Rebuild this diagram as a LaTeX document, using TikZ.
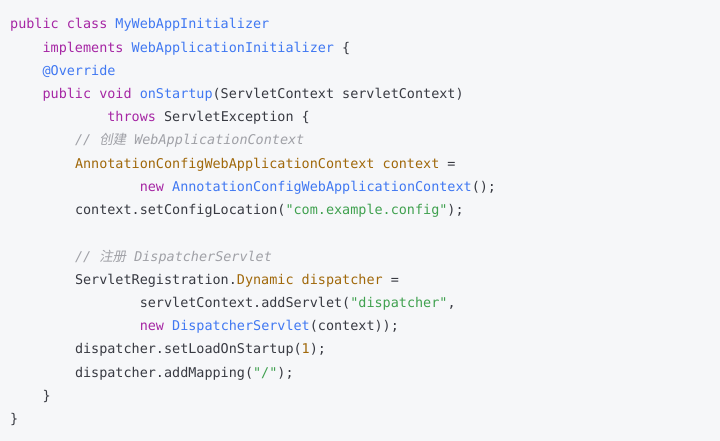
\documentclass[tikz,border=0pt]{standalone}
\usepackage{fontspec}
\setmonofont{DejaVu Sans Mono}
\newfontfamily\cjk{Noto Sans CJK SC}
\definecolor{bgc}{HTML}{F6F7F9}
\definecolor{kw}{HTML}{A626A4}
\definecolor{fn}{HTML}{4078F2}
\definecolor{ty}{HTML}{A0680A}
\definecolor{st}{HTML}{40A14F}
\definecolor{cm}{HTML}{A0A1A7}
\definecolor{tx}{HTML}{383A42}
\newcommand{\K}[1]{\textcolor{kw}{#1}}
\newcommand{\F}[1]{\textcolor{fn}{#1}}
\newcommand{\T}[1]{\textcolor{ty}{#1}}
\newcommand{\Sg}[1]{\textcolor{st}{#1}}
\newcommand{\Cm}[1]{\textcolor{cm}{\itshape #1}}
\begin{document}
\begin{tikzpicture}[x=1pt,y=-1pt,
  ln/.style={anchor=base west,inner sep=0pt,font=\ttfamily\fontsize{13.45}{16}\selectfont,text=tx}]
\fill[bgc] (0,0) rectangle (720,441);
\useasboundingbox (0,0) rectangle (720,441);
\def\cw{8.1}
\node[ln] (l1) at (10,29) {\K{public} \K{class} \F{MyWebAppInitializer}};
\node[ln] (l2) at (10+4*\cw,52.2) {\K{implements} \F{WebApplicationInitializer} \{};
\node[ln] (l3) at (10+4*\cw,75.4) {\F{@Override}};
\node[ln] (l4) at (10+4*\cw,98.6) {\K{public} \K{void} \F{onStartup}(ServletContext servletContext)};
\node[ln] (l5) at (10+12*\cw,121.8) {\K{throws} ServletException \{};
\node[ln] (l6) at (10+8*\cw,145) {\Cm{// {\cjk\upshape\addfontfeature{FakeSlant=0.2}创建} WebApplicationContext}};
\node[ln] (l7) at (10+8*\cw,168.2) {\T{AnnotationConfigWebApplicationContext context} =};
\node[ln] (l8) at (10+16*\cw,191.4) {\K{new} \F{AnnotationConfigWebApplicationContext}();};
\node[ln] (l9) at (10+8*\cw,214.6) {context.setConfigLocation(\Sg{"com.example.config"});};
\node[ln] (l11) at (10+8*\cw,261) {\Cm{// {\cjk\upshape\addfontfeature{FakeSlant=0.2}注册} DispatcherServlet}};
\node[ln] (l12) at (10+8*\cw,284.2) {ServletRegistration.\T{Dynamic dispatcher} =};
\node[ln] (l13) at (10+16*\cw,307.4) {servletContext.addServlet(\Sg{"dispatcher"},};
\node[ln] (l14) at (10+16*\cw,330.6) {\K{new} \F{DispatcherServlet}(context));};
\node[ln] (l15) at (10+8*\cw,353.8) {dispatcher.setLoadOnStartup(\T{1});};
\node[ln] (l16) at (10+8*\cw,377) {dispatcher.addMapping(\Sg{"/"});};
\node[ln] (l17) at (10+4*\cw,400.2) {\}};
\node[ln] (l18) at (10,423.4) {\}};
\end{tikzpicture}
\end{document}
